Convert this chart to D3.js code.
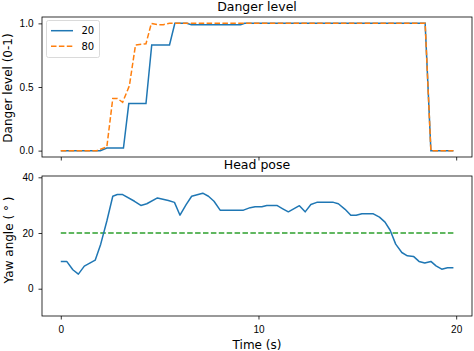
<!DOCTYPE html>
<html>
<head>
<meta charset="utf-8">
<script src="https://cdn.jsdelivr.net/npm/d3@7"></script>
<style>
  body { margin: 0; background: #fff; }
  svg { display: block; font-family: "DejaVu Sans", sans-serif; }
  .axis path, .axis line { stroke: #000; stroke-width: 0.8; }
  .axis text { font-size: 10px; fill: #000; }
</style>
</head>
<body>
<div id="chart"></div>
<script>
// danger level, two settings
var seriesNames = ["20", "80"];
var dangerT20 = [0, 2.0, 2.33, 3.17, 3.44, 4.31, 4.6, 5.5, 5.77, 6.37, 6.6, 9.1, 9.3, 18.43, 18.72, 19.86];
var danger20  = [0, 0, 0.02, 0.02, 0.37, 0.37, 0.83, 0.83, 1.0, 1.0, 0.99, 0.99, 1.0, 1.0, 0, 0];
var dangerT80 = [0, 1.82, 2.33, 2.63, 2.86, 3.13, 3.47, 3.78, 4.31, 4.58, 4.9, 5.19, 5.5, 18.43, 18.72, 19.86];
var danger80  = [0, 0, 0.03, 0.41, 0.41, 0.38, 0.51, 0.83, 0.84, 1.0, 0.99, 0.99, 1.0, 1.0, 0, 0];

// head pose yaw
var yawT = [0, 0.3, 0.61, 0.89, 1.19, 1.74, 2.02, 2.33, 2.63, 2.86, 3.13, 3.73, 4.05, 4.35, 4.89, 5.44, 5.75,
  6.03, 6.34, 6.62, 7.18, 7.47, 7.75, 8.06, 9.24, 9.58, 9.83, 10.17, 10.42, 10.93, 11.23, 11.51, 12.07,
  12.36, 12.65, 12.95, 13.79, 14.04, 14.38, 14.67, 14.94, 15.23, 15.81, 16.12, 16.4, 16.66, 16.94, 17.25,
  17.53, 17.84, 18.12, 18.41, 18.72, 18.98, 19.27, 19.56, 19.86];
var yaw = [9.8, 9.8, 6.8, 5.25, 8.1, 10.25, 16, 24.3, 33.2, 33.8, 33.8, 31.4, 29.9, 30.5, 32.6, 31.7, 31,
  26.4, 30.2, 33.2, 34.3, 33.2, 31.4, 28.2, 28.2, 29.1, 29.4, 29.4, 29.9, 29.9, 28.7, 27.6, 29.8,
  27.6, 30.25, 31, 31, 30.5, 28.5, 26.4, 26.4, 26.9, 26.9, 25.7, 23.9, 21, 16, 13,
  11.8, 11.6, 9.8, 9.2, 9.8, 8.2, 7.0, 7.5, 7.5];
var threshold = 20;

var xTicks = [0, 10, 20];
var dangerTicks = [0, 0.5, 1.0];
var yawTicks = [0, 20, 40];

var width = 474, height = 351;
var left = 42, right = 472;
var top1 = 17, bottom1 = 157;
var top2 = 176, bottom2 = 316;

var svg = d3.select("#chart").append("svg")
    .attr("width", width)
    .attr("height", height);

var x = d3.scaleLinear().domain([-0.95, 20.8]).range([left, right]);
var y1 = d3.scaleLinear().domain([-0.05, 1.05]).range([bottom1, top1]);
var y2 = d3.scaleLinear().domain([-9.8, 40.47]).range([bottom2, top2]);

function zip(a, b) { return a.map(function(d, i) { return [d, b[i]]; }); }

function drawPanel(y, yticks, yfmt, showXLabels) {
    var g = svg.append("g");
    g.append("g").attr("class", "axis")
        .attr("transform", "translate(0," + y.range()[0] + ")")
        .call(d3.axisBottom(x).tickValues(xTicks).tickSize(3.5).tickPadding(6)
            .tickFormat(showXLabels ? d3.format("d") : function() { return ""; }))
        .call(function(a) { a.select(".domain").remove(); });
    g.append("g").attr("class", "axis")
        .attr("transform", "translate(" + left + ",0)")
        .call(d3.axisLeft(y).tickValues(yticks).tickSize(3.5).tickPadding(5).tickFormat(yfmt))
        .call(function(a) { a.select(".domain").remove(); });
    g.append("rect")
        .attr("x", left).attr("y", y.range()[1])
        .attr("width", right - left).attr("height", y.range()[0] - y.range()[1])
        .attr("fill", "none").attr("stroke", "#000").attr("stroke-width", 0.8);
    return g;
}

// top panel
var g1 = drawPanel(y1, dangerTicks, d3.format(".1f"), false);
var line1 = d3.line().x(function(d) { return x(d[0]); }).y(function(d) { return y1(d[1]); });

g1.append("path").datum(zip(dangerT20, danger20))
    .attr("d", line1).attr("fill", "none")
    .attr("stroke", "#1f77b4").attr("stroke-width", 1.5);
g1.append("path").datum(zip(dangerT80, danger80))
    .attr("d", line1).attr("fill", "none")
    .attr("stroke", "#ff7f0e").attr("stroke-width", 1.5)
    .attr("stroke-dasharray", "5.5,2.4");

svg.append("text").attr("x", (left + right) / 2).attr("y", 10.5)
    .attr("text-anchor", "middle").style("font-size", "12.5px").text("Danger level");
svg.append("text")
    .attr("transform", "translate(12," + 88 + ") rotate(-90)")
    .attr("text-anchor", "middle").style("font-size", "12px").text("Danger level (0-1)");

// legend
var leg = svg.append("g");
leg.append("rect").attr("x", 46.5).attr("y", 20.5).attr("width", 53).attr("height", 37)
    .attr("rx", 2).attr("fill", "#fff").attr("stroke", "#d0d0d0").attr("stroke-width", 0.8);
var legStyles = [{ c: "#1f77b4", dash: null }, { c: "#ff7f0e", dash: "5.5,2.4" }];
seriesNames.forEach(function(name, i) {
    var ly = 30.7 + i * 15.6;
    leg.append("line").attr("x1", 51).attr("x2", 73).attr("y1", ly).attr("y2", ly)
        .attr("stroke", legStyles[i].c).attr("stroke-width", 1.5)
        .attr("stroke-dasharray", legStyles[i].dash);
    leg.append("text").attr("x", 81.5).attr("y", ly + 3.6)
        .style("font-size", "10px").text(name);
});

// bottom panel
var g2 = drawPanel(y2, yawTicks, d3.format("d"), true);
var line2 = d3.line().x(function(d) { return x(d[0]); }).y(function(d) { return y2(d[1]); });

g2.append("path").datum([[yawT[0], threshold], [yawT[yawT.length - 1], threshold]])
    .attr("d", line2).attr("fill", "none")
    .attr("stroke", "#2ca02c").attr("stroke-width", 1.5)
    .attr("stroke-dasharray", "5.5,2.4");
g2.append("path").datum(zip(yawT, yaw))
    .attr("d", line2).attr("fill", "none")
    .attr("stroke", "#1f77b4").attr("stroke-width", 1.5)
    .attr("stroke-linejoin", "round");

svg.append("text").attr("x", (left + right) / 2).attr("y", 169)
    .attr("text-anchor", "middle").style("font-size", "12.5px").text("Head pose");
svg.append("text")
    .attr("transform", "translate(12.5," + 240 + ") rotate(-90)")
    .attr("text-anchor", "middle").style("font-size", "12px").text("Yaw angle ( \u00b0 )");
svg.append("text").attr("x", (left + right) / 2).attr("y", 349)
    .attr("text-anchor", "middle").style("font-size", "12px").text("Time (s)");
</script>
</body>
</html>
